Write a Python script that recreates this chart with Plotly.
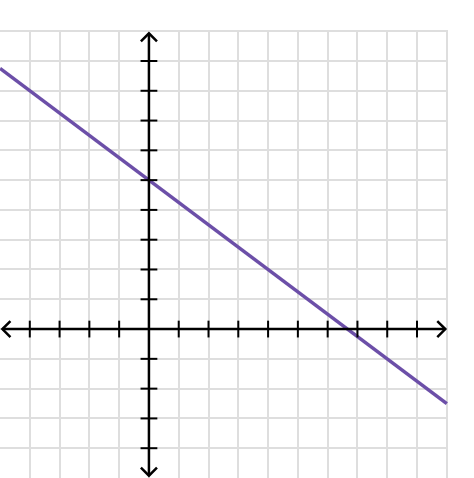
import plotly.graph_objects as go

# line y = m*x + b, drawn across the visible window
slope = -0.75
intercept = 5
x_ends = [-5, 10]
y_ends = [slope * x + intercept for x in x_ends]

# tick marks along each axis (0 is where the axes cross)
x_ticks = [v for v in range(-4, 10) if v != 0]
y_ticks = [v for v in range(-4, 10) if v != 0]

x_range = [-5, 10.04]
y_range = [-5, 10.04]

fig = go.Figure()

# the purple line
fig.add_trace(go.Scatter(x=x_ends, y=y_ends, mode="lines",
                         line=dict(color="#6c4fa8", width=3.5),
                         hoverinfo="skip"))

# tick marks on the axes
fig.add_trace(go.Scatter(x=x_ticks, y=[0] * len(x_ticks), mode="markers",
                         marker=dict(symbol="line-ns-open", size=12, color="black",
                                     line=dict(color="black", width=2)),
                         hoverinfo="skip"))
fig.add_trace(go.Scatter(x=[0] * len(y_ticks), y=y_ticks, mode="markers",
                         marker=dict(symbol="line-ew-open", size=12, color="black",
                                     line=dict(color="black", width=2)),
                         hoverinfo="skip"))

# axis lines with open chevron arrowheads
ax = dict(color="black", width=2.5)
a = 0.27
fig.add_shape(type="line", x0=-4.92, y0=0, x1=9.95, y1=0, line=ax)
fig.add_shape(type="line", x0=0, y0=-4.92, x1=0, y1=9.93, line=ax)
fig.add_shape(type="path", path=f"M {-4.92 + a},{a} L -4.92,0 L {-4.92 + a},{-a}", line=ax)
fig.add_shape(type="path", path=f"M {9.95 - a},{a} L 9.95,0 L {9.95 - a},{-a}", line=ax)
fig.add_shape(type="path", path=f"M {-a},{9.93 - a} L 0,9.93 L {a},{9.93 - a}", line=ax)
fig.add_shape(type="path", path=f"M {-a},{-4.92 + a} L 0,-4.92 L {a},{-4.92 + a}", line=ax)

grid = dict(showgrid=True, gridcolor="#dedede", gridwidth=2, dtick=1,
            tick0=0, showticklabels=False, ticks="", zeroline=False,
            showline=False, fixedrange=True)

fig.update_layout(
    width=474, height=478,
    margin=dict(l=0, r=26, t=30, b=0),
    paper_bgcolor="white", plot_bgcolor="white",
    showlegend=False,
    xaxis=dict(range=x_range, **grid),
    yaxis=dict(range=y_range, **grid),
)

# drop the browser's default page margin so the figure sits at the corner
fig.write_html("out.html", config={"displayModeBar": False},
               post_script="document.body.style.margin='0';")
